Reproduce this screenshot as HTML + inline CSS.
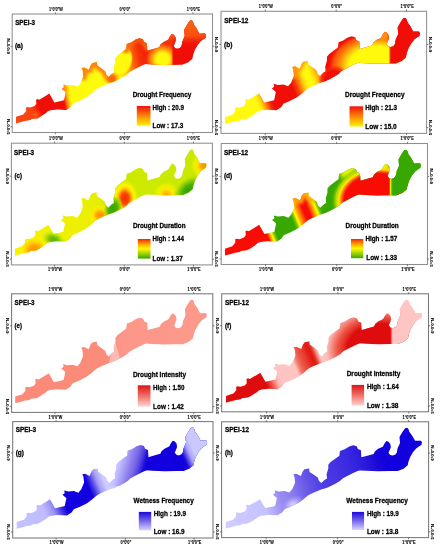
<!DOCTYPE html>
<html lang="en"><head><meta charset="utf-8"><title>Drought maps</title>
<style>
html,body{margin:0;padding:0;background:#fff;}
svg{display:block;}
text{font-family:"Liberation Sans",Arial,Helvetica,sans-serif;font-weight:bold;fill:#000;stroke:#000;stroke-width:0.28px;stroke-linejoin:round;}
.tk text{stroke-width:0.1px;}
</style></head><body>
<svg width="442" height="550" viewBox="0 0 442 550">
<defs><filter id="bl2" x="-30%" y="-30%" width="160%" height="160%"><feGaussianBlur stdDeviation="1.7"/></filter><linearGradient id="l1" gradientUnits="userSpaceOnUse" x1="-14.43" y1="3.07" x2="197.57" y2="-42.00"><stop offset="0.0000" stop-color="#fa4c12"/><stop offset="0.1096" stop-color="#f94010"/><stop offset="0.1431" stop-color="#f20e08"/><stop offset="0.2255" stop-color="#f20e08"/><stop offset="0.2587" stop-color="#f20e08"/><stop offset="0.2677" stop-color="#fb5a0c"/><stop offset="0.2754" stop-color="#ff960a"/><stop offset="0.2858" stop-color="#ffe010"/><stop offset="0.2971" stop-color="#fffa0c"/><stop offset="0.5373" stop-color="#fffa0c"/><stop offset="0.5618" stop-color="#ffdc10"/><stop offset="0.5863" stop-color="#ff9c0a"/><stop offset="0.6140" stop-color="#fb5c0c"/><stop offset="0.6417" stop-color="#f5300a"/><stop offset="0.6771" stop-color="#f4200a"/><stop offset="0.7080" stop-color="#f6300a"/><stop offset="1.0000" stop-color="#f6300a"/></linearGradient><radialGradient id="r2"><stop offset="0.0000" stop-color="#fffa0c"/><stop offset="0.7200" stop-color="#fffa0c"/><stop offset="0.8600" stop-color="#ffe810" stop-opacity="0.9"/><stop offset="1.0000" stop-color="#ffc00c" stop-opacity="0"/></radialGradient><radialGradient id="r3"><stop offset="0.0000" stop-color="#ff8c0a"/><stop offset="1.0000" stop-color="#ffb00a" stop-opacity="0"/></radialGradient><radialGradient id="r4"><stop offset="0.0000" stop-color="#fa5e0c"/><stop offset="0.4500" stop-color="#fc740c"/><stop offset="1.0000" stop-color="#ffc010" stop-opacity="0"/></radialGradient><radialGradient id="r5"><stop offset="0.0000" stop-color="#fb6c10" stop-opacity="0.8"/><stop offset="1.0000" stop-color="#fa4a10" stop-opacity="0"/></radialGradient><radialGradient id="r6"><stop offset="0.0000" stop-color="#fffa0c"/><stop offset="0.3400" stop-color="#fffa0c"/><stop offset="0.4500" stop-color="#ffe010"/><stop offset="0.6200" stop-color="#ffa00a"/><stop offset="0.8200" stop-color="#fb680c" stop-opacity="0.8"/><stop offset="1.0000" stop-color="#f8460c" stop-opacity="0"/></radialGradient><linearGradient id="l7" gradientUnits="userSpaceOnUse" x1="171.30" y1="-0.00" x2="230.00" y2="-0.00"><stop offset="0.0000" stop-color="#f20e08" stop-opacity="0"/><stop offset="0.0392" stop-color="#f20e08"/><stop offset="1.0000" stop-color="#f20e08"/></linearGradient><linearGradient id="l8" gradientUnits="userSpaceOnUse" x1="-0.00" y1="46.00" x2="-0.00" y2="18.00"><stop offset="0.0000" stop-color="#f52008" stop-opacity="0"/><stop offset="0.3571" stop-color="#f9540e" stop-opacity="0.95"/><stop offset="1.0000" stop-color="#fa6a12"/></linearGradient><linearGradient id="l9" gradientUnits="userSpaceOnUse" x1="-32.39" y1="13.09" x2="175.23" y2="-70.80"><stop offset="0.0000" stop-color="#fffa0c"/><stop offset="0.1791" stop-color="#fffa0c"/><stop offset="0.1953" stop-color="#ffd80e"/><stop offset="0.2114" stop-color="#ff8c08"/><stop offset="0.2297" stop-color="#f7300a"/><stop offset="0.2437" stop-color="#f20e08"/><stop offset="0.3483" stop-color="#f20e08"/><stop offset="0.3682" stop-color="#f9420a"/><stop offset="0.3840" stop-color="#ff8c08"/><stop offset="0.4039" stop-color="#ffe010"/><stop offset="0.4197" stop-color="#fffa0c"/><stop offset="0.4371" stop-color="#fffa0c"/><stop offset="0.4570" stop-color="#ffd00e"/><stop offset="0.4769" stop-color="#ff8c08"/><stop offset="0.4968" stop-color="#f8380a"/><stop offset="0.5126" stop-color="#f20e08"/><stop offset="0.5856" stop-color="#f20e08"/><stop offset="1.0000" stop-color="#f20e08"/></linearGradient><radialGradient id="r10"><stop offset="0.0000" stop-color="#fffa0c"/><stop offset="0.5700" stop-color="#fffa0c"/><stop offset="0.6500" stop-color="#ffd00e"/><stop offset="0.7700" stop-color="#ff8c08"/><stop offset="0.9000" stop-color="#fb5a0c" stop-opacity="0.9"/><stop offset="1.0000" stop-color="#f8300a" stop-opacity="0"/></radialGradient><radialGradient id="r11"><stop offset="0.0000" stop-color="#f20e08"/><stop offset="0.5500" stop-color="#f20e08"/><stop offset="0.8000" stop-color="#f5280a" stop-opacity="0.7"/><stop offset="1.0000" stop-color="#f8400a" stop-opacity="0"/></radialGradient><radialGradient id="r12"><stop offset="0.0000" stop-color="#ff8a08"/><stop offset="0.6000" stop-color="#ff9a08" stop-opacity="0.9"/><stop offset="1.0000" stop-color="#ffc00a" stop-opacity="0"/></radialGradient><linearGradient id="l13" gradientUnits="userSpaceOnUse" x1="175.40" y1="-0.00" x2="230.00" y2="-0.00"><stop offset="0.0000" stop-color="#f20e08" stop-opacity="0"/><stop offset="0.0403" stop-color="#f20e08"/><stop offset="1.0000" stop-color="#f20e08"/></linearGradient><linearGradient id="l14" gradientUnits="userSpaceOnUse" x1="10.00" y1="-0.00" x2="215.00" y2="-0.00"><stop offset="0.0000" stop-color="#f6f400"/><stop offset="0.0976" stop-color="#f4f200"/><stop offset="0.3415" stop-color="#eef000"/><stop offset="0.4244" stop-color="#e6ee00"/><stop offset="0.4878" stop-color="#d0ea00"/><stop offset="1.0000" stop-color="#c8e800"/></linearGradient><radialGradient id="r15"><stop offset="0.0000" stop-color="#ff9400"/><stop offset="0.3000" stop-color="#ffa400"/><stop offset="0.5000" stop-color="#ffd000"/><stop offset="0.7500" stop-color="#fff000" stop-opacity="0.8"/><stop offset="1.0000" stop-color="#f4f400" stop-opacity="0"/></radialGradient><radialGradient id="r16"><stop offset="0.0000" stop-color="#5cb600"/><stop offset="0.3000" stop-color="#6ebe00"/><stop offset="0.6200" stop-color="#acde00" stop-opacity="0.9"/><stop offset="1.0000" stop-color="#e4f000" stop-opacity="0"/></radialGradient><radialGradient id="r17"><stop offset="0.0000" stop-color="#ff9200"/><stop offset="0.3000" stop-color="#ffa400"/><stop offset="0.5500" stop-color="#ffe000"/><stop offset="0.8000" stop-color="#f4f200" stop-opacity="0.7"/><stop offset="1.0000" stop-color="#e6f000" stop-opacity="0"/></radialGradient><radialGradient id="r18"><stop offset="0.0000" stop-color="#f92c00"/><stop offset="0.2800" stop-color="#fb4600"/><stop offset="0.4200" stop-color="#ff8c00"/><stop offset="0.5600" stop-color="#ffd800"/><stop offset="0.7000" stop-color="#fbf600"/><stop offset="0.8600" stop-color="#e8f200" stop-opacity="0.7"/><stop offset="1.0000" stop-color="#d8ec00" stop-opacity="0"/></radialGradient><radialGradient id="r19"><stop offset="0.0000" stop-color="#38a600"/><stop offset="0.4500" stop-color="#4cb000"/><stop offset="0.7500" stop-color="#9cd600" stop-opacity="0.9"/><stop offset="1.0000" stop-color="#cdea00" stop-opacity="0"/></radialGradient><radialGradient id="r20"><stop offset="0.0000" stop-color="#ffa400"/><stop offset="0.2000" stop-color="#ffbc00"/><stop offset="0.4500" stop-color="#ffe800"/><stop offset="0.7200" stop-color="#f0f400" stop-opacity="0.7"/><stop offset="1.0000" stop-color="#d8ec00" stop-opacity="0"/></radialGradient><radialGradient id="r21"><stop offset="0.0000" stop-color="#34a200"/><stop offset="0.3500" stop-color="#48ae00"/><stop offset="0.6800" stop-color="#98d400" stop-opacity="0.9"/><stop offset="1.0000" stop-color="#cdea00" stop-opacity="0"/></radialGradient><radialGradient id="r22"><stop offset="0.0000" stop-color="#ff9000"/><stop offset="0.2800" stop-color="#ffa400"/><stop offset="0.5000" stop-color="#ffe000"/><stop offset="0.7500" stop-color="#f4f400" stop-opacity="0.7"/><stop offset="1.0000" stop-color="#d8ec00" stop-opacity="0"/></radialGradient><linearGradient id="l23" gradientUnits="userSpaceOnUse" x1="-32.39" y1="13.09" x2="175.23" y2="-70.80"><stop offset="0.0000" stop-color="#f80c04"/><stop offset="0.2189" stop-color="#f80c04"/><stop offset="0.2289" stop-color="#ff9600"/><stop offset="0.2388" stop-color="#ffff00"/><stop offset="0.2488" stop-color="#7cc400"/><stop offset="0.2587" stop-color="#38a800"/><stop offset="0.3442" stop-color="#38a800"/><stop offset="0.3550" stop-color="#7cc400"/><stop offset="0.3649" stop-color="#ffff00"/><stop offset="0.3798" stop-color="#ff9600"/><stop offset="0.4035" stop-color="#f80c04"/><stop offset="0.4255" stop-color="#f80c04"/><stop offset="0.4433" stop-color="#ff9600"/><stop offset="0.4582" stop-color="#ffff00"/><stop offset="0.4682" stop-color="#7cc400"/><stop offset="0.4781" stop-color="#38a800"/><stop offset="0.5939" stop-color="#38a800"/><stop offset="1.0000" stop-color="#38a800"/></linearGradient><radialGradient id="r24"><stop offset="0.0000" stop-color="#f4f400"/><stop offset="0.4500" stop-color="#e0ee00" stop-opacity="0.95"/><stop offset="1.0000" stop-color="#7cc400" stop-opacity="0"/></radialGradient><radialGradient id="r25"><stop offset="0.0000" stop-color="#f80c04"/><stop offset="0.6900" stop-color="#f80c04"/><stop offset="0.7450" stop-color="#ff7800"/><stop offset="0.7900" stop-color="#ffe800"/><stop offset="0.8500" stop-color="#b4dc00" stop-opacity="0.95"/><stop offset="0.9500" stop-color="#38a800" stop-opacity="0"/><stop offset="1.0000" stop-color="#38a800" stop-opacity="0"/></radialGradient><radialGradient id="r26"><stop offset="0.0000" stop-color="#f4f400"/><stop offset="0.6000" stop-color="#ffe000" stop-opacity="0.9"/><stop offset="1.0000" stop-color="#ffb000" stop-opacity="0"/></radialGradient><linearGradient id="l27" gradientUnits="userSpaceOnUse" x1="175.20" y1="-0.00" x2="230.00" y2="-0.00"><stop offset="0.0000" stop-color="#ffff00" stop-opacity="0"/><stop offset="0.0219" stop-color="#ffff00"/><stop offset="0.0401" stop-color="#7cc400"/><stop offset="0.0620" stop-color="#38a800"/><stop offset="1.0000" stop-color="#38a800"/></linearGradient><linearGradient id="l28" gradientUnits="userSpaceOnUse" x1="10.00" y1="-0.00" x2="215.00" y2="-0.00"><stop offset="0.0000" stop-color="#fb8a78"/><stop offset="0.4780" stop-color="#fb8c7a"/><stop offset="0.5366" stop-color="#fc9688"/><stop offset="1.0000" stop-color="#fc9a8c"/></linearGradient><linearGradient id="l29" gradientUnits="userSpaceOnUse" x1="-32.39" y1="13.09" x2="175.23" y2="-70.80"><stop offset="0.0000" stop-color="#de0c0c"/><stop offset="0.2093" stop-color="#de0c0c"/><stop offset="0.2334" stop-color="#ee5a50"/><stop offset="0.2574" stop-color="#fbb0ac"/><stop offset="0.2732" stop-color="#fdc4c2"/><stop offset="0.3531" stop-color="#fdc4c2"/><stop offset="0.3614" stop-color="#f8a096"/><stop offset="0.3718" stop-color="#f27466"/><stop offset="0.3883" stop-color="#ec5444"/><stop offset="0.4090" stop-color="#e83c30"/><stop offset="0.4256" stop-color="#e22218"/><stop offset="0.4401" stop-color="#e01812"/><stop offset="0.4504" stop-color="#e63a30"/><stop offset="0.4608" stop-color="#f28a80"/><stop offset="0.4711" stop-color="#fdc4c2"/><stop offset="0.5698" stop-color="#fdc4c2"/><stop offset="1.0000" stop-color="#fdc4c2"/></linearGradient><radialGradient id="r30"><stop offset="0.0000" stop-color="#ec5444"/><stop offset="0.5000" stop-color="#ee5c4c" stop-opacity="0.9"/><stop offset="1.0000" stop-color="#f48478" stop-opacity="0"/></radialGradient><radialGradient id="r31"><stop offset="0.0000" stop-color="#de0c0c"/><stop offset="0.5800" stop-color="#de0c0c"/><stop offset="0.6600" stop-color="#e63228"/><stop offset="0.7600" stop-color="#ee5a4a"/><stop offset="0.8600" stop-color="#f59088" stop-opacity="0.95"/><stop offset="1.0000" stop-color="#fdc4c2" stop-opacity="0"/></radialGradient><linearGradient id="l32" gradientUnits="userSpaceOnUse" x1="175.00" y1="-0.00" x2="230.00" y2="-0.00"><stop offset="0.0000" stop-color="#fdc4c2" stop-opacity="0"/><stop offset="0.0436" stop-color="#fdc4c2"/><stop offset="1.0000" stop-color="#fdc8c6"/></linearGradient><linearGradient id="l33" gradientUnits="userSpaceOnUse" x1="-32.39" y1="13.09" x2="182.18" y2="-73.61"><stop offset="0.0000" stop-color="#c4c2ff"/><stop offset="0.1556" stop-color="#c0bcff"/><stop offset="0.1926" stop-color="#9a90f4"/><stop offset="0.2295" stop-color="#3a2ae0"/><stop offset="0.2487" stop-color="#1200de"/><stop offset="0.3716" stop-color="#1200de"/><stop offset="0.3908" stop-color="#4a3ce2"/><stop offset="0.4157" stop-color="#a49cf6"/><stop offset="0.4446" stop-color="#cfccff"/><stop offset="0.4847" stop-color="#cac8ff"/><stop offset="1.0000" stop-color="#cac8ff"/></linearGradient><linearGradient id="l34" gradientUnits="userSpaceOnUse" x1="119.40" y1="31.99" x2="227.89" y2="61.06"><stop offset="0.0000" stop-color="#c9c8ff" stop-opacity="0"/><stop offset="0.0456" stop-color="#c6c2ff"/><stop offset="0.0977" stop-color="#a9a0f6"/><stop offset="0.1422" stop-color="#8e80ee"/><stop offset="0.1900" stop-color="#7464e8"/><stop offset="0.2338" stop-color="#4a38e0"/><stop offset="0.2621" stop-color="#2010da"/><stop offset="0.2914" stop-color="#1200de"/><stop offset="1.0000" stop-color="#1200de"/></linearGradient><linearGradient id="l35" gradientUnits="userSpaceOnUse" x1="106.42" y1="-47.38" x2="173.19" y2="-77.11"><stop offset="0.0000" stop-color="#1200de" stop-opacity="0"/><stop offset="0.3813" stop-color="#1200de" stop-opacity="0"/><stop offset="0.4313" stop-color="#4a3ae2" stop-opacity="0.9"/><stop offset="0.4938" stop-color="#a8a0f8"/><stop offset="0.5625" stop-color="#c9c8ff"/><stop offset="1.0000" stop-color="#c9c8ff"/></linearGradient><linearGradient id="l36" gradientUnits="userSpaceOnUse" x1="-25.63" y1="8.33" x2="187.24" y2="-60.84"><stop offset="0.0000" stop-color="#d2ceff"/><stop offset="0.2105" stop-color="#c6c2ff"/><stop offset="0.2458" stop-color="#b0a8f8"/><stop offset="0.2867" stop-color="#988cf2"/><stop offset="0.3361" stop-color="#8c7ef0"/><stop offset="0.3756" stop-color="#7a6aec"/><stop offset="0.4066" stop-color="#6a58e8"/><stop offset="0.4772" stop-color="#4e3ee4"/><stop offset="0.5378" stop-color="#4636e2"/><stop offset="0.6140" stop-color="#3a2ae0"/><stop offset="0.6860" stop-color="#2a18dc"/><stop offset="0.7340" stop-color="#1a08d8"/><stop offset="0.7721" stop-color="#1200de"/><stop offset="1.0000" stop-color="#1200de"/></linearGradient><radialGradient id="r37"><stop offset="0.0000" stop-color="#d8d0ff"/><stop offset="0.3000" stop-color="#c8c0fd" stop-opacity="0.9"/><stop offset="0.6500" stop-color="#aca2f6" stop-opacity="0.6"/><stop offset="1.0000" stop-color="#988cf2" stop-opacity="0"/></radialGradient><linearGradient id="ramp_ryo" x1="0" y1="0" x2="0" y2="1"><stop offset="0.0000" stop-color="#f4100c"/><stop offset="0.4500" stop-color="#fb7a08"/><stop offset="1.0000" stop-color="#fff200"/></linearGradient><linearGradient id="ramp_ryg" x1="0" y1="0" x2="0" y2="1"><stop offset="0.0000" stop-color="#f8200a"/><stop offset="0.2500" stop-color="#ffa000"/><stop offset="0.5000" stop-color="#fff800"/><stop offset="0.7500" stop-color="#9cd400"/><stop offset="1.0000" stop-color="#3aa800"/></linearGradient><linearGradient id="ramp_rp" x1="0" y1="0" x2="0" y2="1"><stop offset="0.0000" stop-color="#dc1414"/><stop offset="0.5000" stop-color="#f07068"/><stop offset="1.0000" stop-color="#ffd2d0"/></linearGradient><linearGradient id="ramp_bl" x1="0" y1="0" x2="0" y2="1"><stop offset="0.0000" stop-color="#1c08dc"/><stop offset="0.5000" stop-color="#7868ec"/><stop offset="1.0000" stop-color="#d8d4ff"/></linearGradient><clipPath id="shape"><polygon points="16.0,123.5 16.0,116.7 23.3,114.4 26.1,111.0 26.1,107.6 27.3,107.1 30.1,107.6 34.6,105.9 36.3,103.7 36.0,99.7 37.5,99.1 39.2,99.7 45.9,95.7 49.3,93.5 54.4,102.5 62,100.8 64.0,100.2 65.7,92.3 61.8,88.9 64.0,87.2 63.5,84.4 67.4,85.5 73.1,85 77.6,86.7 80.5,83.3 83.3,76.5 82.7,70.8 81.6,68.0 84.4,67.4 88.9,69.7 90.6,65.2 92.3,62.9 96.9,62.0 97.3,65.5 100.7,67.8 105.2,71.2 106.3,74.6 108.6,76.9 112,73.5 114.2,72.3 113.7,67.8 115.4,62.1 115.4,58.2 117.6,55.4 122.1,52.0 126.1,49.1 126.7,44.0 131.2,42.4 135.7,39.5 139.5,38.2 142.9,39.3 144.0,42.1 146.9,43.3 147.4,50.6 153.1,48.9 159.3,47.2 160.4,44.6 163.5,41.9 166.5,40.6 168.3,39.4 169.6,36.8 171.6,34.0 173.3,34.4 175.3,36.8 175.9,40.3 174.6,43.6 173.6,46.0 175.2,48.2 177.5,48.8 180.0,48.0 181.6,45.8 182.4,41.4 184.8,36.0 184.2,29.8 187.1,24.7 189.5,21.0 190.6,20.4 192.0,20.5 193.0,21.8 193.7,24.5 196.6,28.5 199.3,33.7 205.0,33.6 206.0,35.3 205.4,38.0 203.0,39.6 200.6,41.2 197.4,45.2 194.6,50.2 192.9,55.2 192.2,58.8 188.2,62.2 182.4,64.6 174.6,64.7 163.3,64.9 152,64.4 146,64.0 143.7,64.7 140,66.5 134.2,69.5 129.6,72.0 126.6,74.9 122.6,77.4 117.4,80.2 113.6,81.9 108.5,83.6 100.4,87.0 97.5,88.6 95.3,90.0 91.2,93.8 86.3,97.4 79.3,101.0 73.1,103.6 70.8,107.0 66.3,109.9 57.2,109.5 50.7,110.3 47.8,111.3 45.8,113.2 42.9,115.1 40.4,116.7 37.4,118.4 31.6,119.0 30.5,120.1 26.1,120.7 21.2,122.1"/></clipPath></defs>
<rect width="442" height="550" fill="#fff"/>
<rect x="12.20" y="14.00" width="200.30" height="118.50" fill="#fff" stroke="#8e8e8e" stroke-width="1.05"/>
<g transform="matrix(1.0000 0 0 1.0000 0.000 0.000)"><g clip-path="url(#shape)"><rect x="0" y="0" width="230" height="140" fill="url(#l1)"/><ellipse cx="122.5" cy="62.5" rx="9.5" ry="15.5" fill="url(#r2)" transform="rotate(22 122.5 62.5)"/><path d="M83.3,76.5 L82.7,70.8 L81.6,68.0 L84.4,67.4 L88.9,69.7 L90.6,65.2 L92.3,62.9 L96.9,62.0 L97.3,65.5 L100.7,67.8 L105.2,71.2 L106.3,74.6 L108.6,76.9" fill="none" stroke="#ff8208" stroke-width="7.5" stroke-linejoin="round" stroke-linecap="round" filter="url(#bl2)"/><path d="M126.1,50 L126.7,44.0 L131.2,42.4 L135.7,39.5 L139.5,38.2 L142.9,39.3 L144.0,42.1 L146.9,43.3 L147.2,47" fill="none" stroke="#fb7010" stroke-width="7" stroke-linejoin="round" stroke-linecap="round" filter="url(#bl2)" opacity="0.9"/><ellipse cx="64" cy="88" rx="6" ry="8" fill="url(#r3)"/><ellipse cx="111.7" cy="78.6" rx="8.5" ry="7.5" fill="url(#r4)"/><ellipse cx="36" cy="115" rx="7" ry="6" fill="url(#r5)"/><ellipse cx="162.5" cy="59.5" rx="17" ry="17" fill="url(#r6)"/><polygon points="171.3,10 230,10 230,80 171.3,80" fill="url(#l7)"/><rect x="0" y="0" width="230" height="140" fill="url(#l8)"/></g></g>
<rect x="136.8" y="106.0" width="13.7" height="19.7" fill="url(#ramp_ryo)"/>
<text x="132.7" y="96.8" font-size="7.4" textLength="58.5" lengthAdjust="spacingAndGlyphs">Drought Frequency</text>
<text x="152.5" y="110.0" font-size="7.4" textLength="31.5" lengthAdjust="spacingAndGlyphs">High : 20.9</text>
<text x="152.5" y="128.4" font-size="7.4" textLength="30.9" lengthAdjust="spacingAndGlyphs">Low : 17.3</text>
<text x="15.2" y="25.1" font-size="7.4" textLength="19.8" lengthAdjust="spacingAndGlyphs">SPEI-3</text>
<text x="14.9" y="48.3" font-size="7.4" textLength="8.2" lengthAdjust="spacingAndGlyphs">(a)</text>
<rect x="221.00" y="11.30" width="205.60" height="122.10" fill="#fff" stroke="#8e8e8e" stroke-width="1.05"/>
<g transform="matrix(1.0274 0 0 1.0321 208.362 -3.264)"><g clip-path="url(#shape)"><rect x="0" y="0" width="230" height="140" fill="url(#l9)"/><ellipse cx="164" cy="67" rx="47" ry="33" fill="url(#r10)"/><ellipse cx="121" cy="79" rx="15" ry="12" fill="url(#r11)" transform="rotate(-30 121 79)"/><path d="M83.3,76.5 L82.7,70.8 L81.6,68.0 L84.4,67.4 L88.9,69.7 L90.6,65.2 L92.3,62.9" fill="none" stroke="#ff9408" stroke-width="6" stroke-linejoin="round" stroke-linecap="round" filter="url(#bl2)" opacity="0.85"/><ellipse cx="170" cy="36" rx="6" ry="6" fill="url(#r12)"/><polygon points="175.4,10 230,10 230,80 175.4,80" fill="url(#l13)"/></g></g>
<rect x="349.5" y="106.3" width="13.6" height="20.2" fill="url(#ramp_ryo)"/>
<text x="345.0" y="96.7" font-size="7.4" textLength="59.5" lengthAdjust="spacingAndGlyphs">Drought Frequency</text>
<text x="365.2" y="110.1" font-size="7.4" textLength="31.9" lengthAdjust="spacingAndGlyphs">High : 21.3</text>
<text x="365.2" y="129.2" font-size="7.4" textLength="31.5" lengthAdjust="spacingAndGlyphs">Low : 15.0</text>
<text x="224.3" y="22.6" font-size="7.4" textLength="24.1" lengthAdjust="spacingAndGlyphs">SPEI-12</text>
<text x="224.1" y="46.9" font-size="7.4" textLength="8.4" lengthAdjust="spacingAndGlyphs">(b)</text>
<rect x="11.40" y="143.20" width="201.00" height="121.70" fill="#fff" stroke="#8e8e8e" stroke-width="1.05"/>
<g transform="matrix(1.0100 0 0 1.0302 -1.360 128.476)"><g clip-path="url(#shape)"><rect x="0" y="0" width="230" height="140" fill="url(#l14)"/><ellipse cx="35.4" cy="118" rx="17" ry="15" fill="url(#r15)"/><ellipse cx="54.6" cy="108.2" rx="13" ry="8.5" fill="url(#r16)" transform="rotate(22 54.6 108.2)"/><ellipse cx="100.6" cy="84.4" rx="12.5" ry="11" fill="url(#r17)"/><ellipse cx="125" cy="68" rx="13.5" ry="18.5" fill="url(#r18)"/><ellipse cx="113.2" cy="78" rx="9.5" ry="13.5" fill="url(#r19)" transform="rotate(15 113.2 78)"/><ellipse cx="166.2" cy="64.6" rx="14" ry="13.5" fill="url(#r20)"/><ellipse cx="188.5" cy="60" rx="20" ry="12.5" fill="url(#r21)" transform="rotate(-40 188.5 60)"/><ellipse cx="204.5" cy="36" rx="15" ry="13.5" fill="url(#r22)"/></g></g>
<rect x="137.8" y="239.0" width="12.7" height="19.6" fill="url(#ramp_ryg)"/>
<text x="132.9" y="228.2" font-size="7.4" textLength="52.7" lengthAdjust="spacingAndGlyphs">Drought Duration</text>
<text x="152.6" y="241.2" font-size="7.4" textLength="31.3" lengthAdjust="spacingAndGlyphs">High : 1.44</text>
<text x="152.6" y="260.7" font-size="7.4" textLength="30.2" lengthAdjust="spacingAndGlyphs">Low : 1.37</text>
<text x="14.1" y="154.9" font-size="7.4" textLength="20.0" lengthAdjust="spacingAndGlyphs">SPEI-3</text>
<text x="14.6" y="177.8" font-size="7.4" textLength="7.4" lengthAdjust="spacingAndGlyphs">(c)</text>
<rect x="221.20" y="143.50" width="206.30" height="121.00" fill="#fff" stroke="#8e8e8e" stroke-width="1.05"/>
<g transform="matrix(1.0326 0 0 1.0263 208.278 128.856)"><g clip-path="url(#shape)"><rect x="0" y="0" width="230" height="140" fill="url(#l23)"/><path d="M82.7,72 L81.6,68.0 L84.4,67.4 L88.9,69.7 L90.6,65.2 L92.3,62.9 L96.9,62.0 L97.3,65.5 L100.7,67.8" fill="none" stroke="#ffac00" stroke-width="7" stroke-linejoin="round" stroke-linecap="round" filter="url(#bl2)" opacity="0.9"/><ellipse cx="136" cy="42.5" rx="13" ry="9" fill="url(#r24)" transform="rotate(-25 136 42.5)"/><ellipse cx="166" cy="70" rx="50" ry="38.6" fill="url(#r25)"/><ellipse cx="170.5" cy="36" rx="5" ry="5.5" fill="url(#r26)"/><polygon points="175.2,10 230,10 230,80 175.2,80" fill="url(#l27)"/></g></g>
<rect x="351.0" y="239.0" width="12.3" height="19.2" fill="url(#ramp_ryg)"/>
<text x="345.6" y="228.2" font-size="7.4" textLength="53.2" lengthAdjust="spacingAndGlyphs">Drought Duration</text>
<text x="365.4" y="241.2" font-size="7.4" textLength="31.9" lengthAdjust="spacingAndGlyphs">High : 1.57</text>
<text x="366.3" y="260.3" font-size="7.4" textLength="30.8" lengthAdjust="spacingAndGlyphs">Low : 1.33</text>
<text x="223.9" y="154.9" font-size="7.4" textLength="24.3" lengthAdjust="spacingAndGlyphs">SPEI-12</text>
<text x="223.9" y="177.9" font-size="7.4" textLength="8.4" lengthAdjust="spacingAndGlyphs">(d)</text>
<rect x="11.60" y="293.80" width="201.20" height="118.60" fill="#fff" stroke="#787878" stroke-width="1.05"/>
<g transform="matrix(1.0095 0 0 1.0039 -1.052 279.319)"><g clip-path="url(#shape)"><rect x="0" y="0" width="230" height="140" fill="url(#l28)"/><polygon points="115.2,62 109.6,79 109,90 121,90 120,79" fill="#fdbab4"/></g></g>
<rect x="137.8" y="385.3" width="12.7" height="21.3" fill="url(#ramp_rp)"/>
<text x="132.9" y="376.8" font-size="7.4" textLength="53.1" lengthAdjust="spacingAndGlyphs">Drought Intensity</text>
<text x="153.1" y="390.0" font-size="7.4" textLength="31.4" lengthAdjust="spacingAndGlyphs">High : 1.50</text>
<text x="153.1" y="408.7" font-size="7.4" textLength="30.8" lengthAdjust="spacingAndGlyphs">Low : 1.42</text>
<text x="14.6" y="305.2" font-size="7.4" textLength="19.9" lengthAdjust="spacingAndGlyphs">SPEI-3</text>
<text x="14.6" y="328.2" font-size="7.4" textLength="7.4" lengthAdjust="spacingAndGlyphs">(e)</text>
<rect x="221.70" y="293.80" width="206.80" height="118.00" fill="#fff" stroke="#787878" stroke-width="1.05"/>
<g transform="matrix(1.0342 0 0 0.9981 209.253 279.440)"><g clip-path="url(#shape)"><rect x="0" y="0" width="230" height="140" fill="url(#l29)"/><ellipse cx="137" cy="44" rx="15" ry="10" fill="url(#r30)" transform="rotate(-25 137 44)"/><ellipse cx="166" cy="70" rx="56" ry="44" fill="url(#r31)"/><polygon points="175.0,10 230,10 230,80 175.0,80" fill="url(#l32)"/></g></g>
<rect x="351.6" y="384.9" width="12.5" height="20.6" fill="url(#ramp_rp)"/>
<text x="346.7" y="376.2" font-size="7.4" textLength="53.6" lengthAdjust="spacingAndGlyphs">Drought Intensity</text>
<text x="366.9" y="388.9" font-size="7.4" textLength="31.9" lengthAdjust="spacingAndGlyphs">High : 1.64</text>
<text x="366.9" y="407.7" font-size="7.4" textLength="31.5" lengthAdjust="spacingAndGlyphs">Low : 1.38</text>
<text x="225.0" y="304.8" font-size="7.4" textLength="24.0" lengthAdjust="spacingAndGlyphs">SPEI-12</text>
<text x="225.0" y="328.2" font-size="7.4" textLength="6.3" lengthAdjust="spacingAndGlyphs">(f)</text>
<rect x="12.70" y="421.60" width="200.30" height="116.40" fill="#fff" stroke="#787878" stroke-width="1.05"/>
<g transform="matrix(1.0042 0 0 0.9825 0.433 407.462)"><g clip-path="url(#shape)"><rect x="0" y="0" width="230" height="140" fill="url(#l33)"/><polygon points="106,10 230,10 230,80 106,80" fill="url(#l34)"/><polygon points="150,10 230,10 230,80 150,80" fill="url(#l35)"/></g></g>
<rect x="138.8" y="511.9" width="12.4" height="18.5" fill="url(#ramp_bl)"/>
<text x="133.5" y="502.8" font-size="7.4" textLength="60.2" lengthAdjust="spacingAndGlyphs">Wetness Frequency</text>
<text x="153.7" y="515.5" font-size="7.4" textLength="32.3" lengthAdjust="spacingAndGlyphs">High : 19.9</text>
<text x="153.7" y="534.0" font-size="7.4" textLength="30.8" lengthAdjust="spacingAndGlyphs">Low : 16.9</text>
<text x="15.7" y="432.4" font-size="7.4" textLength="20.4" lengthAdjust="spacingAndGlyphs">SPEI-3</text>
<text x="15.7" y="455.2" font-size="7.4" textLength="8.3" lengthAdjust="spacingAndGlyphs">(g)</text>
<rect x="221.60" y="421.80" width="207.00" height="115.80" fill="#fff" stroke="#787878" stroke-width="1.05"/>
<g transform="matrix(1.0342 0 0 0.9776 208.953 407.863)"><g clip-path="url(#shape)"><rect x="0" y="0" width="230" height="140" fill="url(#l36)"/><ellipse cx="81" cy="98.5" rx="12" ry="8" fill="url(#r37)" transform="rotate(-30 81 98.5)"/></g></g>
<rect x="352.0" y="511.9" width="12.1" height="18.1" fill="url(#ramp_bl)"/>
<text x="346.3" y="502.8" font-size="7.4" textLength="61.6" lengthAdjust="spacingAndGlyphs">Wetness Frequency</text>
<text x="366.9" y="515.5" font-size="7.4" textLength="31.9" lengthAdjust="spacingAndGlyphs">High : 19.9</text>
<text x="366.9" y="533.6" font-size="7.4" textLength="31.5" lengthAdjust="spacingAndGlyphs">Low : 13.8</text>
<text x="225.0" y="432.4" font-size="7.4" textLength="24.0" lengthAdjust="spacingAndGlyphs">SPEI-12</text>
<text x="225.0" y="455.2" font-size="7.4" textLength="7.9" lengthAdjust="spacingAndGlyphs">(h)</text>
<path d="M55.4 12.3V14.0M55.4 132.5V134.2M124.4 12.3V14.0M124.4 132.5V134.2M192.9 12.3V14.0M192.9 132.5V134.2M10.5 46.3H12.2M212.5 46.3H214.2M10.5 126.8H12.2M212.5 126.8H214.2M265.3 9.6V11.3M265.3 133.4V135.1M336.2 9.6V11.3M336.2 133.4V135.1M406.5 9.6V11.3M406.5 133.4V135.1M219.3 44.5H221.0M426.6 44.5H428.3M219.3 127.6H221.0M426.6 127.6H428.3M54.6 141.5V143.2M54.6 264.9V266.6M124.3 141.5V143.2M124.3 264.9V266.6M193.5 141.5V143.2M193.5 264.9V266.6M9.7 176.2H11.4M212.4 176.2H214.1M9.7 259.1H11.4M212.4 259.1H214.1M265.5 141.8V143.5M265.5 264.5V266.2M336.7 141.8V143.5M336.7 264.5V266.2M407.5 141.8V143.5M407.5 264.5V266.2M219.5 176.4H221.2M427.5 176.4H429.2M219.5 259.0H221.2M427.5 259.0H429.2M54.9 292.1V293.8M54.9 412.4V414.1M124.5 292.1V293.8M124.5 412.4V414.1M193.7 292.1V293.8M193.7 412.4V414.1M9.9 325.8H11.6M212.8 325.8H214.5M9.9 406.6H11.6M212.8 406.6H214.5M266.5 292.1V293.8M266.5 411.8V413.5M337.9 292.1V293.8M337.9 411.8V413.5M408.8 292.1V293.8M408.8 411.8V413.5M220.0 325.7H221.7M428.5 325.7H430.2M220.0 406.0H221.7M428.5 406.0H430.2M56.1 419.9V421.6M56.1 538.0V539.7M125.4 419.9V421.6M125.4 538.0V539.7M194.1 419.9V421.6M194.1 538.0V539.7M11.0 453.0H12.7M213.0 453.0H214.7M11.0 532.0H12.7M213.0 532.0H214.7M266.2 420.1V421.8M266.2 537.6V539.3M337.6 420.1V421.8M337.6 537.6V539.3M408.5 420.1V421.8M408.5 537.6V539.3M219.9 453.1H221.6M428.6 453.1H430.3M219.9 531.8H221.6M428.6 531.8H430.3" stroke="#333" stroke-width="0.6" fill="none"/>
<g class="tk"><text x="55.9" y="11.0" text-anchor="middle" font-size="4.5" textLength="14.0" lengthAdjust="spacingAndGlyphs">1°0'0&quot;W</text><text x="55.9" y="139.6" text-anchor="middle" font-size="4.5" textLength="14.0" lengthAdjust="spacingAndGlyphs">1°0'0&quot;W</text><text x="125.0" y="11.0" text-anchor="middle" font-size="4.5" textLength="10.8" lengthAdjust="spacingAndGlyphs">0°0'0&quot;</text><text x="125.0" y="139.6" text-anchor="middle" font-size="4.5" textLength="10.8" lengthAdjust="spacingAndGlyphs">0°0'0&quot;</text><text x="193.5" y="11.0" text-anchor="middle" font-size="4.5" textLength="13.4" lengthAdjust="spacingAndGlyphs">1°0'0&quot;E</text><text x="193.5" y="139.6" text-anchor="middle" font-size="4.5" textLength="13.4" lengthAdjust="spacingAndGlyphs">1°0'0&quot;E</text><text transform="translate(9.7 46.3) rotate(-90)" text-anchor="middle" font-size="4.4" textLength="15.4" lengthAdjust="spacingAndGlyphs">6°0'0&quot;N</text><text transform="translate(9.7 126.8) rotate(-90)" text-anchor="middle" font-size="4.4" textLength="15.4" lengthAdjust="spacingAndGlyphs">5°0'0&quot;N</text><text x="265.8" y="8.1" text-anchor="middle" font-size="4.5" textLength="14.0" lengthAdjust="spacingAndGlyphs">1°0'0&quot;W</text><text x="265.8" y="140.2" text-anchor="middle" font-size="4.5" textLength="14.0" lengthAdjust="spacingAndGlyphs">1°0'0&quot;W</text><text x="336.7" y="8.1" text-anchor="middle" font-size="4.5" textLength="10.8" lengthAdjust="spacingAndGlyphs">0°0'0&quot;</text><text x="336.7" y="140.2" text-anchor="middle" font-size="4.5" textLength="10.8" lengthAdjust="spacingAndGlyphs">0°0'0&quot;</text><text x="407.1" y="8.1" text-anchor="middle" font-size="4.5" textLength="13.4" lengthAdjust="spacingAndGlyphs">1°0'0&quot;E</text><text x="407.1" y="140.2" text-anchor="middle" font-size="4.5" textLength="13.4" lengthAdjust="spacingAndGlyphs">1°0'0&quot;E</text><text transform="translate(218.3 44.5) rotate(-90)" text-anchor="middle" font-size="4.4" textLength="15.4" lengthAdjust="spacingAndGlyphs">6°0'0&quot;N</text><text transform="translate(431.6 44.5) rotate(-90)" text-anchor="middle" font-size="4.4" textLength="15.4" lengthAdjust="spacingAndGlyphs">6°0'0&quot;N</text><text transform="translate(218.3 127.6) rotate(-90)" text-anchor="middle" font-size="4.4" textLength="15.4" lengthAdjust="spacingAndGlyphs">5°0'0&quot;N</text><text transform="translate(431.6 127.6) rotate(-90)" text-anchor="middle" font-size="4.4" textLength="15.4" lengthAdjust="spacingAndGlyphs">5°0'0&quot;N</text><text x="55.1" y="271.1" text-anchor="middle" font-size="4.5" textLength="14.0" lengthAdjust="spacingAndGlyphs">1°0'0&quot;W</text><text x="124.8" y="271.1" text-anchor="middle" font-size="4.5" textLength="10.8" lengthAdjust="spacingAndGlyphs">0°0'0&quot;</text><text x="194.0" y="271.1" text-anchor="middle" font-size="4.5" textLength="13.4" lengthAdjust="spacingAndGlyphs">1°0'0&quot;E</text><text transform="translate(8.9 176.2) rotate(-90)" text-anchor="middle" font-size="4.4" textLength="15.4" lengthAdjust="spacingAndGlyphs">6°0'0&quot;N</text><text transform="translate(8.9 259.1) rotate(-90)" text-anchor="middle" font-size="4.4" textLength="15.4" lengthAdjust="spacingAndGlyphs">5°0'0&quot;N</text><text x="266.0" y="271.1" text-anchor="middle" font-size="4.5" textLength="14.0" lengthAdjust="spacingAndGlyphs">1°0'0&quot;W</text><text x="337.3" y="271.1" text-anchor="middle" font-size="4.5" textLength="10.8" lengthAdjust="spacingAndGlyphs">0°0'0&quot;</text><text x="408.0" y="271.1" text-anchor="middle" font-size="4.5" textLength="13.4" lengthAdjust="spacingAndGlyphs">1°0'0&quot;E</text><text transform="translate(218.3 176.4) rotate(-90)" text-anchor="middle" font-size="4.4" textLength="15.4" lengthAdjust="spacingAndGlyphs">6°0'0&quot;N</text><text transform="translate(432.6 176.4) rotate(-90)" text-anchor="middle" font-size="4.4" textLength="15.4" lengthAdjust="spacingAndGlyphs">6°0'0&quot;N</text><text transform="translate(218.3 259.0) rotate(-90)" text-anchor="middle" font-size="4.4" textLength="15.4" lengthAdjust="spacingAndGlyphs">5°0'0&quot;N</text><text transform="translate(432.6 259.0) rotate(-90)" text-anchor="middle" font-size="4.4" textLength="15.4" lengthAdjust="spacingAndGlyphs">5°0'0&quot;N</text><text x="55.4" y="290.9" text-anchor="middle" font-size="4.5" textLength="14.0" lengthAdjust="spacingAndGlyphs">1°0'0&quot;W</text><text x="55.4" y="418.8" text-anchor="middle" font-size="4.5" textLength="14.0" lengthAdjust="spacingAndGlyphs">1°0'0&quot;W</text><text x="125.1" y="290.9" text-anchor="middle" font-size="4.5" textLength="10.8" lengthAdjust="spacingAndGlyphs">0°0'0&quot;</text><text x="125.1" y="418.8" text-anchor="middle" font-size="4.5" textLength="10.8" lengthAdjust="spacingAndGlyphs">0°0'0&quot;</text><text x="194.2" y="290.9" text-anchor="middle" font-size="4.5" textLength="13.4" lengthAdjust="spacingAndGlyphs">1°0'0&quot;E</text><text x="194.2" y="418.8" text-anchor="middle" font-size="4.5" textLength="13.4" lengthAdjust="spacingAndGlyphs">1°0'0&quot;E</text><text transform="translate(8.9 325.8) rotate(-90)" text-anchor="middle" font-size="4.4" textLength="15.4" lengthAdjust="spacingAndGlyphs">6°0'0&quot;N</text><text transform="translate(8.9 406.6) rotate(-90)" text-anchor="middle" font-size="4.4" textLength="15.4" lengthAdjust="spacingAndGlyphs">5°0'0&quot;N</text><text x="267.1" y="290.9" text-anchor="middle" font-size="4.5" textLength="14.0" lengthAdjust="spacingAndGlyphs">1°0'0&quot;W</text><text x="267.1" y="419.0" text-anchor="middle" font-size="4.5" textLength="14.0" lengthAdjust="spacingAndGlyphs">1°0'0&quot;W</text><text x="338.5" y="290.9" text-anchor="middle" font-size="4.5" textLength="10.8" lengthAdjust="spacingAndGlyphs">0°0'0&quot;</text><text x="338.5" y="419.0" text-anchor="middle" font-size="4.5" textLength="10.8" lengthAdjust="spacingAndGlyphs">0°0'0&quot;</text><text x="409.3" y="290.9" text-anchor="middle" font-size="4.5" textLength="13.4" lengthAdjust="spacingAndGlyphs">1°0'0&quot;E</text><text x="409.3" y="419.0" text-anchor="middle" font-size="4.5" textLength="13.4" lengthAdjust="spacingAndGlyphs">1°0'0&quot;E</text><text transform="translate(218.8 325.7) rotate(-90)" text-anchor="middle" font-size="4.4" textLength="15.4" lengthAdjust="spacingAndGlyphs">6°0'0&quot;N</text><text transform="translate(433.7 325.7) rotate(-90)" text-anchor="middle" font-size="4.4" textLength="15.4" lengthAdjust="spacingAndGlyphs">6°0'0&quot;N</text><text transform="translate(218.8 406.0) rotate(-90)" text-anchor="middle" font-size="4.4" textLength="15.4" lengthAdjust="spacingAndGlyphs">5°0'0&quot;N</text><text transform="translate(433.7 406.0) rotate(-90)" text-anchor="middle" font-size="4.4" textLength="15.4" lengthAdjust="spacingAndGlyphs">5°0'0&quot;N</text><text x="56.6" y="543.9" text-anchor="middle" font-size="4.5" textLength="14.0" lengthAdjust="spacingAndGlyphs">1°0'0&quot;W</text><text x="125.9" y="543.9" text-anchor="middle" font-size="4.5" textLength="10.8" lengthAdjust="spacingAndGlyphs">0°0'0&quot;</text><text x="194.7" y="543.9" text-anchor="middle" font-size="4.5" textLength="13.4" lengthAdjust="spacingAndGlyphs">1°0'0&quot;E</text><text transform="translate(9.9 453.0) rotate(-90)" text-anchor="middle" font-size="4.4" textLength="15.4" lengthAdjust="spacingAndGlyphs">6°0'0&quot;N</text><text transform="translate(9.9 532.0) rotate(-90)" text-anchor="middle" font-size="4.4" textLength="15.4" lengthAdjust="spacingAndGlyphs">5°0'0&quot;N</text><text x="266.8" y="543.9" text-anchor="middle" font-size="4.5" textLength="14.0" lengthAdjust="spacingAndGlyphs">1°0'0&quot;W</text><text x="338.2" y="543.9" text-anchor="middle" font-size="4.5" textLength="10.8" lengthAdjust="spacingAndGlyphs">0°0'0&quot;</text><text x="409.0" y="543.9" text-anchor="middle" font-size="4.5" textLength="13.4" lengthAdjust="spacingAndGlyphs">1°0'0&quot;E</text><text transform="translate(218.8 453.1) rotate(-90)" text-anchor="middle" font-size="4.4" textLength="15.4" lengthAdjust="spacingAndGlyphs">6°0'0&quot;N</text><text transform="translate(433.7 453.1) rotate(-90)" text-anchor="middle" font-size="4.4" textLength="15.4" lengthAdjust="spacingAndGlyphs">6°0'0&quot;N</text><text transform="translate(218.8 531.8) rotate(-90)" text-anchor="middle" font-size="4.4" textLength="15.4" lengthAdjust="spacingAndGlyphs">5°0'0&quot;N</text><text transform="translate(433.7 531.8) rotate(-90)" text-anchor="middle" font-size="4.4" textLength="15.4" lengthAdjust="spacingAndGlyphs">5°0'0&quot;N</text></g>
</svg>
</body></html>
